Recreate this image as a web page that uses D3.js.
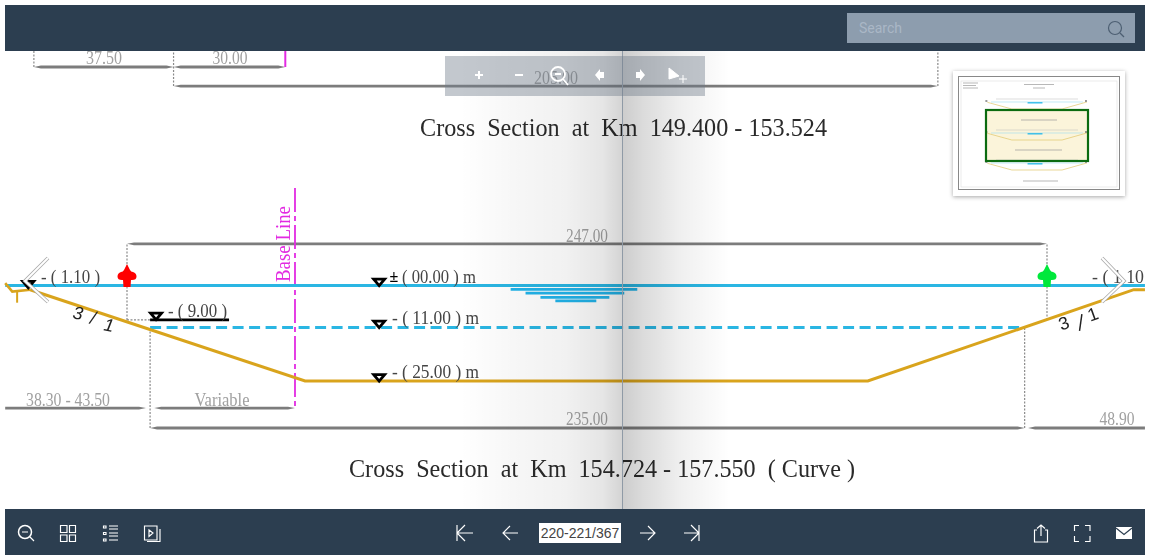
<!DOCTYPE html>
<html>
<head>
<meta charset="utf-8">
<title>Cross Section</title>
<script src="https://cdn.jsdelivr.net/npm/d3@7"></script>
<style>
  html, body { margin: 0; padding: 0; background: #fff; overflow: hidden; }
  svg { display: block; }
  .cad { font-family: "Liberation Serif", serif; }
  .dim-label { fill: #a0a0a0; font-size: 18px; text-anchor: middle; }
  .level-label { fill: #444; font-size: 18px; }
  .slope { fill: #222; font-family: "Liberation Sans", sans-serif; font-style: italic; font-size: 18px; text-anchor: middle; }
  .ico { fill: none; stroke: #fff; stroke-width: 1.15; }
</style>
</head>
<body>
<div id="chart"></div>
<script>
// channel bed, metres from the left crest marker / metres of level
const bedStations = [-26, 47.8, 198.9, 270.3, 273.3];
const bedLevels = [-1.1, -25, -25, -1.1, -1.1];
const berm = { stations: [-32.7, -30.8, -26], levels: [0.6, -1.6, -1.1] };

const waterLevels = [0, -11];
const waterLabels = ["( 00.00 ) m", "- ( 11.00 ) m", "- ( 25.00 ) m"];
const labelLevels = [0, -11, -25];
const rippleStarts = [103, 107, 111, 115];
const rippleEnds = [137, 133.5, 129.5, 126];
const rippleLevels = [-1, -2, -3.1, -4];

const dimLabels = ["37.50", "30.00", "205.00", "247.00", "38.30 - 43.50", "Variable", "235.00", "48.90"];
const dimStarts = [-25, 12.5, 12.5, 0, -32.7, 7.3, 6.2, 241.9];
const dimEnds = [12.5, 42.5, 217.7, 247, 5.1, 45.1, 241, 273.3];
const dimLevels = [57.2, 57.2, 52.2, 10.9, -32.1, -32.1, -37.3, -37.3];

const titles = ["Cross  Section  at  Km  149.400 - 153.524", "Cross  Section  at  Km  154.724 - 157.550  ( Curve )"];
const pageLabel = "220-221/367";

const width = 1152, height = 560;

const x = d3.scaleLinear().domain([0, 247]).range([127, 1047]);
const y = d3.scaleLinear().domain([0, -25]).range([285.5, 381]);
const lineGen = d3.line().x(d => x(d[0])).y(d => y(d[1]));

const svg = d3.select("#chart").append("svg").attr("width", width).attr("height", height);
const defs = svg.append("defs");
defs.append("filter").attr("id", "soft").append("feGaussianBlur").attr("stdDeviation", 0.4);
const shadow = defs.append("filter").attr("id", "shadow").attr("x", "-10%").attr("y", "-10%").attr("width", "120%").attr("height", "120%");
shadow.append("feDropShadow").attr("dx", 0).attr("dy", 1).attr("stdDeviation", 2).attr("flood-opacity", 0.35);

function foldGradient(id, stops) {
  const g = defs.append("linearGradient").attr("id", id);
  stops.forEach(s => g.append("stop").attr("offset", s[0]).attr("stop-color", "#000").attr("stop-opacity", s[1]));
}
foldGradient("foldL", [[0, 0], [0.3, 0.03], [0.65, 0.055], [0.88, 0.1], [1, 0.17]]);
foldGradient("foldR", [[0, 0.2], [0.2, 0.14], [0.55, 0.06], [1, 0]]);

svg.append("rect").attr("width", width).attr("height", height).attr("fill", "#fff");

const cad = svg.append("g").attr("class", "cad").attr("filter", "url(#soft)");

// dotted witness lines
const witness = [[-25, 57.2, 61.4], [12.5, 52.2, 61.4], [217.7, 52.2, 61.4], [0, -9, 10.9], [247, -9, 10.9], [6.2, -37.3, -11], [241, -37.3, -11]];
cad.selectAll("line.witness").data(witness).join("line")
  .attr("class", "witness")
  .attr("x1", d => x(d[0])).attr("x2", d => x(d[0]))
  .attr("y1", d => y(d[1])).attr("y2", d => y(d[2]))
  .attr("stroke", "#8a8a8a").attr("stroke-width", 1.2).attr("stroke-dasharray", "2,1.5");
cad.append("line").attr("x1", x(0)).attr("x2", x(6.2)).attr("y1", y(-9)).attr("y2", y(-9))
  .attr("stroke", "#8a8a8a").attr("stroke-width", 1.2).attr("stroke-dasharray", "2,1.5");

// dimension lines with tapered ends
dimLabels.forEach((label, i) => {
  const x0 = x(dimStarts[i]), x1 = x(dimEnds[i]), yy = y(dimLevels[i]);
  const tipL = dimStarts[i] > -32 ? 7 : 0, tipR = dimEnds[i] < 273 ? 7 : 0;
  cad.append("path")
    .attr("d", `M${x0},${yy} L${x0 + tipL},${yy - 1.4} L${x1 - tipR},${yy - 1.4} L${x1},${yy} L${x1 - tipR},${yy + 1.4} L${x0 + tipL},${yy + 1.4} Z`)
    .attr("fill", "#7c7c7c");
});
const dimTextX = [104, 230, 556, 587, 68, 222, 587, 1117];
const dimTextY = [64, 64, 84, 242, 406, 406, 425, 425];
const dimTextW = [36, 35, 44, 42, 84, 55, 42, 35];
dimLabels.forEach((label, i) => {
  cad.append("text").attr("class", "dim-label")
    .attr("x", dimTextX[i]).attr("y", dimTextY[i])
    .attr("textLength", dimTextW[i]).attr("lengthAdjust", "spacingAndGlyphs")
    .text(label);
});

// base line
cad.append("line").attr("x1", x(45.1)).attr("x2", x(45.1)).attr("y1", 188).attr("y2", y(-32.1))
  .attr("stroke", "#e22be2").attr("stroke-width", 1.8).attr("stroke-dasharray", "24,4,5,4");
cad.append("line").attr("x1", x(42.5)).attr("x2", x(42.5)).attr("y1", y(61.4)).attr("y2", y(57.2))
  .attr("stroke", "#e22be2").attr("stroke-width", 2);
cad.append("text").attr("transform", `translate(290,282) rotate(-90)`)
  .attr("fill", "#e22be2").attr("font-size", 21).attr("textLength", 76).attr("lengthAdjust", "spacingAndGlyphs").text("Base Line");

// water
cad.selectAll("line.water").data(waterLevels).join("line")
  .attr("class", "water")
  .attr("x1", (d, i) => i ? x(6.2) : x(-32.7))
  .attr("x2", (d, i) => i ? x(241) : x(273.3))
  .attr("y1", d => y(d)).attr("y2", d => y(d))
  .attr("stroke", "#2bb6e3").attr("stroke-width", (d, i) => i ? 2.8 : 3.2)
  .attr("stroke-dasharray", (d, i) => i ? "11,5.5" : null);
cad.selectAll("line.ripple").data(rippleLevels).join("line")
  .attr("class", "ripple")
  .attr("x1", (d, i) => x(rippleStarts[i])).attr("x2", (d, i) => x(rippleEnds[i]))
  .attr("y1", d => y(d)).attr("y2", d => y(d))
  .attr("stroke", "#22b4ea").attr("stroke-width", 2.8);

// channel bed and left berm
cad.append("path").attr("d", lineGen(bedStations.map((s, i) => [s, bedLevels[i]])))
  .attr("fill", "none").attr("stroke", "#d9a41f").attr("stroke-width", 3);
cad.append("path").attr("d", lineGen(berm.stations.map((s, i) => [s, berm.levels[i]])))
  .attr("fill", "none").attr("stroke", "#d9a41f").attr("stroke-width", 2.6);
cad.append("line").attr("x1", x(-29.5)).attr("x2", x(-29.5)).attr("y1", y(-1.4)).attr("y2", y(-4.5))
  .attr("stroke", "#d9a41f").attr("stroke-width", 2);

// level marks
function levelMark(sx, lv) {
  const cx = x(sx), cy = y(lv);
  cad.append("path").attr("d", `M${cx - 5.5},${cy - 3} L${cx + 5.5},${cy - 3} L${cx},${cy + 3.5} Z`)
    .attr("fill", "#fff").attr("stroke", "#000").attr("stroke-width", 2.8);
}
labelLevels.forEach(lv => levelMark(67.7, lv + 0.9));
levelMark(7.8, -8);
levelMark(-26.5, 0.3);

cad.append("line").attr("x1", x(6.2)).attr("x2", x(27.4)).attr("y1", y(-9)).attr("y2", y(-9))
  .attr("stroke", "#000").attr("stroke-width", 2.6);

const labelX = [402, 392, 392];
const labelY = [283, 324, 378];
waterLabels.forEach((t, i) => {
  cad.append("text").attr("class", "level-label").attr("x", labelX[i]).attr("y", labelY[i])
    .attr("textLength", i ? 87 : 74).attr("lengthAdjust", "spacingAndGlyphs").text(t);
});
// plus-minus sign of the zero level
cad.append("text").attr("x", 394).attr("y", 282).attr("text-anchor", "middle")
  .attr("font-size", 16).attr("font-weight", "bold").attr("fill", "#000").text("±");
const bankLabels = [["- ( 9.00 )", 168, 317, 59], ["- ( 1.10 )", 41, 283, 59], ["- ( 1.10", 1092, 283, 52]];
bankLabels.forEach(d => {
  cad.append("text").attr("class", "level-label").attr("x", d[1]).attr("y", d[2])
    .attr("textLength", d[3]).attr("lengthAdjust", "spacingAndGlyphs").text(d[0]);
});

// slope ratios
const slopeL = [["3", 77, 319, 10], ["/", 92, 324, 10], ["1", 108, 331, 10]];
const slopeR = [["3", 1066, 329, -20], ["|", 1080, 327, 8], ["1", 1095, 320, -20]];
slopeL.forEach(d => cad.append("text").attr("class", "slope")
  .attr("transform", `translate(${d[1]},${d[2]}) rotate(${d[3]})`).text(d[0]));
slopeR.forEach(d => cad.append("text").attr("class", "slope")
  .attr("transform", `translate(${d[1]},${d[2]}) rotate(${d[3]})`).style("font-style", "normal").text(d[0]));

// crest markers
function crest(sx, colour) {
  const c = x(sx);
  cad.append("path")
    .attr("d", `M${c},264 L${c + 3},270 Q${c + 4},272 ${c + 6},272 Q${c + 9.5},273 ${c + 9.5},276.5 Q${c + 9.5},280 ${c + 5},280 L${c + 4},280 L${c + 3.5},287 L${c - 3.5},287 L${c - 4},280 L${c - 5},280 Q${c - 9.5},280 ${c - 9.5},276.5 Q${c - 9.5},273 ${c - 6},272 Q${c - 4},272 ${c - 3},270 Z`)
    .attr("fill", colour);
}
crest(0, "#ff0000");
crest(247, "#00e83a");

// titles
const titleX = [420, 349], titleY = [136, 477], titleW = [407, 506];
titles.forEach((t, i) => {
  cad.append("text").attr("x", titleX[i]).attr("y", titleY[i]).attr("font-size", 26).attr("fill", "#2a2a2a")
    .attr("textLength", titleW[i]).attr("lengthAdjust", "spacingAndGlyphs").attr("xml:space", "preserve").text(t);
});

// book fold
svg.append("rect").attr("x", 460).attr("y", 51).attr("width", 162).attr("height", 458).attr("fill", "url(#foldL)");
svg.append("rect").attr("x", 622).attr("y", 51).attr("width", 108).attr("height", 458).attr("fill", "url(#foldR)");
svg.append("line").attr("x1", 622.5).attr("x2", 622.5).attr("y1", 51).attr("y2", 509).attr("stroke", "#8f9aa6").attr("stroke-width", 1);

// viewer chevrons
function chevron(pts) {
  const l = d3.line();
  svg.append("path").attr("d", l(pts)).attr("fill", "none").attr("stroke", "#aaa").attr("stroke-width", 3.6);
  svg.append("path").attr("d", l(pts)).attr("fill", "none").attr("stroke", "#fff").attr("stroke-width", 2);
}
chevron([[48, 258], [25, 281], [48, 302]]);
chevron([[1102, 258], [1124, 281], [1102, 302]]);

// zoom toolbar
const tools = svg.append("g");
tools.append("rect").attr("x", 445).attr("y", 56).attr("width", 260).attr("height", 40).attr("fill", "#6f7d8b").attr("fill-opacity", 0.42);
tools.append("path").attr("d", "M475,75H483M479,71V79M515,75H523").attr("stroke", "#fff").attr("stroke-width", 2).attr("fill", "none");
tools.append("circle").attr("cx", 558).attr("cy", 74).attr("r", 7).attr("fill", "none").attr("stroke", "#fff").attr("stroke-width", 1.8);
tools.append("path").attr("d", "M555,74H561M563,79L568,85").attr("stroke", "#fff").attr("stroke-width", 1.8);
tools.append("path").attr("d", "M595,75L600,69V72H604V78H600V81Z").attr("fill", "#fff");
tools.append("path").attr("d", "M645,75L640,69V72H636V78H640V81Z").attr("fill", "#fff");
tools.append("path").attr("d", "M669,68L679,76L669,79Z").attr("fill", "#fff").attr("stroke", "#fff");
tools.append("path").attr("d", "M679,79H687M683,75V83").attr("stroke", "#fff").attr("stroke-width", 1);

// overview thumbnail
const thumb = svg.append("g");
thumb.append("rect").attr("x", 953).attr("y", 71).attr("width", 172).attr("height", 125).attr("fill", "#fff").attr("filter", "url(#shadow)");
thumb.append("rect").attr("x", 958.5).attr("y", 76.5).attr("width", 161).attr("height", 113).attr("fill", "#fff").attr("stroke", "#888").attr("stroke-width", 1);
thumb.append("rect").attr("x", 961).attr("y", 81).attr("width", 156).attr("height", 106).attr("fill", "none").attr("stroke", "#ddd").attr("stroke-width", 0.6);
thumb.append("rect").attr("x", 986).attr("y", 110).attr("width", 102).attr("height", 51).attr("fill", "#fbf4da");
const tx = d3.scaleLinear().domain([0, 247]).range([996, 1078]);
const thumbRows = [102, 133, 163];
const mini = thumb.append("g").attr("filter", "url(#soft)");
thumbRows.forEach(base => {
  const ty = d3.scaleLinear().domain([0, -25]).range([base, base + 7]);
  mini.append("line").attr("x1", tx(-15)).attr("x2", tx(262)).attr("y1", base).attr("y2", base)
    .attr("stroke", "#9adcf0").attr("stroke-width", 0.6);
  mini.append("path")
    .attr("d", d3.line().x(d => tx(d[0])).y(d => ty(d[1]))(bedStations.map((s, i) => [s, bedLevels[i]])))
    .attr("fill", "none").attr("stroke", "#e0c56a").attr("stroke-width", 0.7);
  mini.append("line").attr("x1", tx(95)).attr("x2", tx(140)).attr("y1", base + 0.8).attr("y2", base + 0.8)
    .attr("stroke", "#33bdea").attr("stroke-width", 1.4);
  mini.append("line").attr("x1", tx(0)).attr("x2", tx(247)).attr("y1", base - 3).attr("y2", base - 3)
    .attr("stroke", "#bbb").attr("stroke-width", 0.5);
  mini.append("line").attr("x1", tx(-32)).attr("x2", tx(-26)).attr("y1", base - 1).attr("y2", base - 1)
    .attr("stroke", "#555").attr("stroke-width", 1.2);
  mini.append("line").attr("x1", tx(268)).attr("x2", tx(274)).attr("y1", base - 1).attr("y2", base - 1)
    .attr("stroke", "#555").attr("stroke-width", 1.2);
});
mini.append("path").attr("d", "M1024,84.5H1054M1033,88H1045M963,83H978M963,85.5H976M963,88H978M1023,181H1058M1021,120H1057M1015,150H1062")
  .attr("stroke", "#999").attr("stroke-width", 0.7);
thumb.append("rect").attr("x", 986).attr("y", 110).attr("width", 102).attr("height", 51).attr("fill", "none").attr("stroke", "#0b6b10").attr("stroke-width", 2.2);

// header and footer bars
const barColour = "#2c3e50";
svg.append("rect").attr("x", 5).attr("y", 5).attr("width", 1140).attr("height", 46).attr("fill", barColour);
svg.append("rect").attr("x", 5).attr("y", 509).attr("width", 1140).attr("height", 46).attr("fill", barColour);

svg.append("rect").attr("x", 847).attr("y", 13).attr("width", 288).attr("height", 30).attr("fill", "#8d9dae");
svg.append("text").attr("x", 859).attr("y", 33).attr("font-family", "Roboto, sans-serif").attr("font-size", 14)
  .attr("fill", "#aab7c6").text("Search");
svg.append("circle").attr("cx", 1115).attr("cy", 28).attr("r", 6.5).attr("fill", "none").attr("stroke", "#4d5f72").attr("stroke-width", 1.2);
svg.append("line").attr("x1", 1120).attr("y1", 33).attr("x2", 1124).attr("y2", 37).attr("stroke", "#4d5f72").attr("stroke-width", 1.2);

// footer icons
const foot = svg.append("g").attr("class", "ico");
foot.append("circle").attr("cx", 25).attr("cy", 532).attr("r", 6.5).attr("stroke-width", 1.5);
foot.append("path").attr("d", "M22,532H28M30,537L34,541");
foot.append("path").attr("d", "M60.5,525.5H67V532.5H60.5ZM69.5,525.5H75.5V532.5H69.5Z");
foot.append("path").attr("d", "M60.5,535H67V541.5H60.5ZM69.5,535H75.5V541.5H69.5Z");
foot.append("path").attr("d", "M103.5,526H106V528H103.5ZM103.5,532.5H106V534.5H103.5ZM103.5,539H106V541H103.5ZM109,526H118M109,529H118M109,533H118M109,536H118M109,540H118");
foot.append("path").attr("d", "M144.5,526H157V540H144.5ZM160,529V541.5H147M149,530V536.5L153,533Z");
foot.append("path").attr("d", "M457,525V541M473,533H458M465,525L457,533L465,541");
foot.append("path").attr("d", "M518,533H503M510,526L503,533L510,540");
foot.append("path").attr("d", "M640,533H655M648,526L655,533L648,540");
foot.append("path").attr("d", "M699,525V541M684,533H699M691,525L699,533L691,541");
foot.append("path").attr("d", "M1037,530H1034.5V542H1047.5V530H1045M1041,536V525M1037,528.5L1041,525L1045,528.5");
foot.append("path").attr("d", "M1074.5,531V525.5H1079M1085,525.5H1090V531M1090,536V541.5H1085M1079,541.5H1074.5V536");
svg.append("path").attr("d", "M1116,527H1132V539H1116Z").attr("fill", "#fff");
svg.append("path").attr("d", "M1116,528L1124,534.5L1132,528").attr("fill", "none").attr("stroke", barColour).attr("stroke-width", 1.2);

svg.append("rect").attr("x", 539).attr("y", 523).attr("width", 82).attr("height", 20).attr("fill", "#fff");
svg.append("text").attr("x", 580).attr("y", 538).attr("text-anchor", "middle")
  .attr("font-family", "'Liberation Sans', Arial, sans-serif").attr("font-size", 14).attr("fill", "#444").text(pageLabel);
</script>
</body>
</html>
